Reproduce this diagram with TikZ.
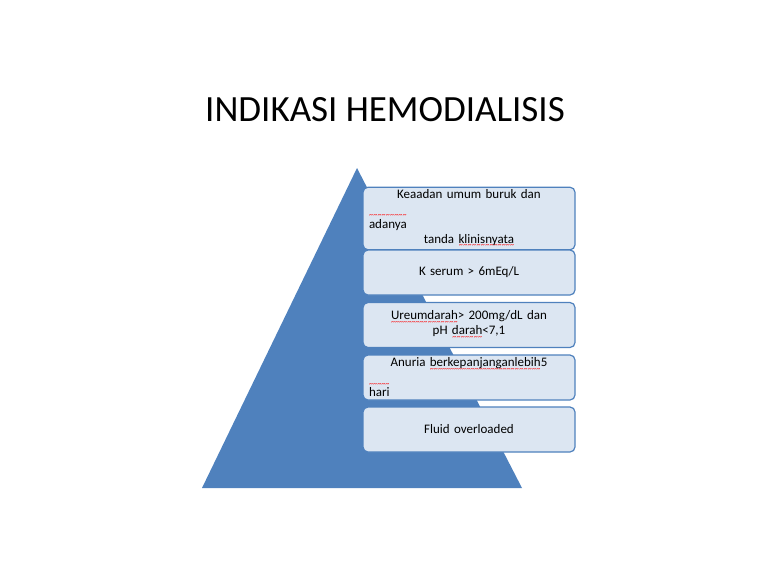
\documentclass[tikz,border=0pt]{standalone}
\usepackage{fontspec}
\setmainfont{Carlito}
\newcommand\sq[1]{\setbox0\hbox{#1}\rlap{\raisebox{-4.5pt}{\color{red}\hbox to \wd0{\xleaders\hbox{\fontsize{8}{8}\selectfont\char126}\hfil}}}\box0}
\begin{document}
\begin{tikzpicture}[x=1pt,y=-1pt]
\definecolor{tri}{RGB}{79,129,189}
\definecolor{boxf}{RGB}{220,230,242}
\tikzset{item/.style={draw=tri,line width=1.2pt,fill=boxf,rounded corners=5pt,minimum width=212pt,minimum height=45pt,text width=200pt,align=center,font=\fontsize{13}{15}\selectfont,inner sep=2pt}}
\useasboundingbox (0,0) rectangle (768,576);
\node (title) at (385,110) {\fontsize{37}{40}\selectfont INDIKASI HEMODIALISIS};
\fill[tri] (357,168) -- (522,488) -- (202,488) -- cycle;
\node[item] (b1) at (469,218.5) {Keaadan umum buruk dan\\ \sq{adanya} tanda \sq{klinis} \sq{nyata}};
\node[item] (b2) at (469,272.5) {K serum > 6mEq/L};
\node[item] (b3) at (469,325) {\sq{Ureum} \sq{darah} > 200mg/dL dan\\ pH \sq{darah}<7,1};
\node[item] (b4) at (469,377.5) {Anuria \sq{berkepanjangan} \sq{lebih} 5\\ \sq{hari}};
\node[item] (b5) at (469,429.5) {Fluid overloaded};
\end{tikzpicture}
\end{document}
